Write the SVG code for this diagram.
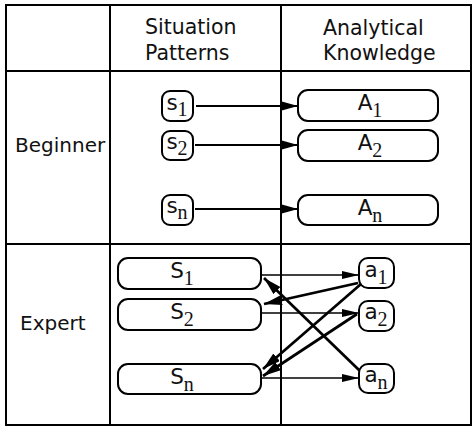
<svg xmlns="http://www.w3.org/2000/svg" width="474" height="428" viewBox="0 0 474 428">
<style>
.hdr{font-family:"DejaVu Sans",sans-serif;font-size:20.5px;fill:#111}
.lbl{font-family:"DejaVu Sans",sans-serif;font-size:21.5px;fill:#111}
.sub{font-family:"Liberation Serif",serif;font-size:20px}
.box{fill:#fff;stroke:#000;stroke-width:2}
.grid{fill:none;stroke:#000;stroke-width:2}
.thin{stroke:#000;stroke-width:1.6;fill:none}
.mid{stroke:#000;stroke-width:2;fill:none}
.thick{stroke:#000;stroke-width:2.7;fill:none}
</style>
<defs>
<marker id="ah" markerUnits="userSpaceOnUse" markerWidth="20" markerHeight="12" refX="18" refY="5" orient="auto">
<path d="M0,0 L18,5 L0,10 z" fill="#000"/>
</marker>
<marker id="ahs" markerUnits="userSpaceOnUse" markerWidth="20" markerHeight="10" refX="17" refY="4" orient="auto">
<path d="M0,0 L17,4 L0,8 z" fill="#000"/>
</marker>
</defs>
<rect width="474" height="428" fill="#fff"/>
<g id="table">
<rect class="grid" x="6" y="5" width="465" height="420"/>
<line class="grid" x1="110" y1="5" x2="110" y2="425"/>
<line class="grid" x1="281" y1="5" x2="281" y2="425"/>
<line class="grid" x1="6" y1="71" x2="471" y2="71"/>
<line class="grid" x1="6" y1="244" x2="471" y2="244"/>
</g>
<g id="headers">
<text class="hdr" x="145" y="34">Situation</text>
<text class="hdr" x="145" y="60">Patterns</text>
<text class="hdr" x="323" y="35">Analytical</text>
<text class="hdr" x="323" y="60">Knowledge</text>
<text class="hdr" x="15" y="152" style="font-size:20px">Beginner</text>
<text class="hdr" x="20" y="330" style="font-size:20px">Expert</text>
</g>
<g id="connectors">
<line class="mid" x1="196" y1="106" x2="298" y2="106" marker-end="url(#ah)"/>
<line class="mid" x1="195" y1="145" x2="298" y2="145" marker-end="url(#ah)"/>
<line class="mid" x1="195" y1="209" x2="298" y2="209" marker-end="url(#ah)"/>
<line class="thin" x1="262" y1="275" x2="359" y2="275" marker-end="url(#ahs)"/>
<line class="thin" x1="262" y1="313" x2="359" y2="313" marker-end="url(#ahs)"/>
<line class="thin" x1="262" y1="378" x2="359" y2="378" marker-end="url(#ahs)"/>
<line class="thick" x1="358" y1="283" x2="264" y2="304" marker-end="url(#ah)"/>
<line class="thick" x1="361" y1="284" x2="263" y2="369" marker-end="url(#ah)"/>
<line class="thick" x1="357" y1="314" x2="263" y2="376" marker-end="url(#ah)"/>
<line class="thick" x1="360" y1="371" x2="264" y2="278" marker-end="url(#ah)"/>
</g>
<g id="s1"><rect class="box" x="162" y="91" width="31" height="30" rx="8"/><text class="lbl" x="177" y="110" text-anchor="middle">s<tspan class="sub" dy="6">1</tspan></text></g>
<g id="s2"><rect class="box" x="162" y="131" width="31" height="29" rx="8"/><text class="lbl" x="177" y="149" text-anchor="middle">s<tspan class="sub" dy="6">2</tspan></text></g>
<g id="sn"><rect class="box" x="162" y="195" width="31" height="30" rx="8"/><text class="lbl" x="177" y="213" text-anchor="middle">s<tspan class="sub" dy="6">n</tspan></text></g>
<g id="A1"><rect class="box" x="298" y="90" width="140" height="31" rx="10"/><text class="lbl" x="370" y="110" text-anchor="middle">A<tspan class="sub" dy="7">1</tspan></text></g>
<g id="A2"><rect class="box" x="298" y="130" width="140" height="31" rx="10"/><text class="lbl" x="370" y="150" text-anchor="middle">A<tspan class="sub" dy="7">2</tspan></text></g>
<g id="An"><rect class="box" x="298" y="195" width="140" height="30" rx="10"/><text class="lbl" x="370" y="215" text-anchor="middle">A<tspan class="sub" dy="7">n</tspan></text></g>
<g id="S1"><rect class="box" x="118" y="258" width="143" height="31" rx="10"/><text class="lbl" x="182" y="278" text-anchor="middle">S<tspan class="sub" dy="7">1</tspan></text></g>
<g id="S2"><rect class="box" x="118" y="299" width="143" height="31" rx="10"/><text class="lbl" x="182" y="319" text-anchor="middle">S<tspan class="sub" dy="7">2</tspan></text></g>
<g id="Sn"><rect class="box" x="118" y="364" width="143" height="30" rx="10"/><text class="lbl" x="182" y="384" text-anchor="middle">S<tspan class="sub" dy="7">n</tspan></text></g>
<g id="a1"><rect class="box" x="359" y="258" width="35" height="30" rx="9"/><text class="lbl" x="376" y="277" text-anchor="middle">a<tspan class="sub" dy="7">1</tspan></text></g>
<g id="a2"><rect class="box" x="359" y="301" width="35" height="30" rx="9"/><text class="lbl" x="376" y="319" text-anchor="middle">a<tspan class="sub" dy="7">2</tspan></text></g>
<g id="an"><rect class="box" x="359" y="364" width="35" height="29" rx="9"/><text class="lbl" x="376" y="382" text-anchor="middle">a<tspan class="sub" dy="7">n</tspan></text></g>
</svg>
